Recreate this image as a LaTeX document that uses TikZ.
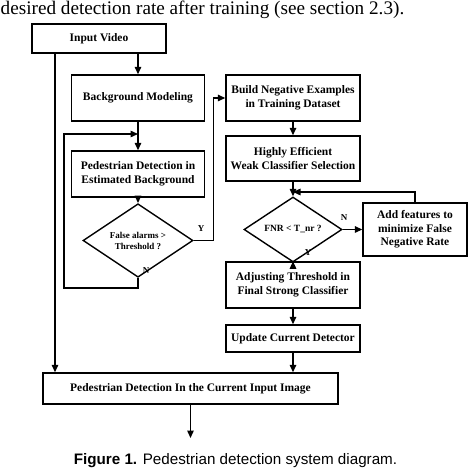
\documentclass[tikz,border=0pt]{standalone}
\usepackage{fontspec}
\setmainfont{Liberation Serif}
\newfontfamily\capfont{Liberation Sans}
\usetikzlibrary{arrows.meta,shapes.geometric,calc}
\tikzset{
  box/.style={draw, line width=1.4pt, inner sep=0pt, align=center,
    font=\fontsize{11.5}{13.5}\selectfont\bfseries},
  dia/.style={draw, diamond, line width=1.4pt, inner sep=0pt, align=center},
  arr/.style={line width=1.4pt, -{Triangle[length=7.5pt,width=6.5pt]}},
  lbl/.style={font=\fontsize{9}{10}\selectfont\bfseries, inner sep=0pt}
}
\begin{document}
\begin{tikzpicture}[x=1pt,y=-1pt]
\useasboundingbox (0,0) rectangle (474,470);
\node[anchor=base west, inner sep=0pt, font=\fontsize{19.2}{21}\selectfont] (top) at (0.5,15) {desired detection rate after training (see section 2.3).};

\node[box, minimum width=134pt, minimum height=29pt] (iv) at (99,38.5) {Input Video};
\node[box, minimum width=133pt, minimum height=46pt] (bg) at (138,98) {Background Modeling};
\node[box, minimum width=133pt, minimum height=46pt] (pd) at (138,174) {Pedestrian Detection in\\Estimated Background};
\node[dia, minimum width=110pt, minimum height=47pt, font=\fontsize{9}{11}\selectfont\bfseries] (d1) at (138,240.5) {False alarms >\\Threshold ?};

\node[box, minimum width=134pt, minimum height=46pt] (bn) at (293,98) {Build Negative Examples\\in Training Dataset};
\node[box, minimum width=134pt, minimum height=45pt] (he) at (293,158.5) {Highly Efficient\\Weak Classifier Selection};
\node[dia, minimum width=98pt, minimum height=33pt, font=\fontsize{9.5}{11}\selectfont\bfseries] (d2) at (293,229.5) {FNR < T\_nr ?};
\node[box, minimum width=104pt, minimum height=53pt] (af) at (415,229.5) {Add features to\\minimize False\\Negative Rate};
\node[box, minimum width=134pt, minimum height=46pt] (ad) at (293,285) {Adjusting Threshold in\\Final Strong Classifier};
\node[box, minimum width=134pt, minimum height=27pt] (uc) at (293,338.5) {Update Current Detector};
\node[box, minimum width=295pt, minimum height=31pt] (out) at (190.5,388.5) {Pedestrian Detection In the Current Input Image};

\node[anchor=base, inner sep=0pt, font=\capfont\fontsize{15.2}{17}\selectfont] (cap) at (235.5,464) {\textbf{Figure 1.} Pedestrian detection system diagram.};

% labels
\node[lbl] (y1) at (201,229) {Y};
\node[lbl] (n1) at (146,271) {N};
\node[lbl] (n2) at (344,218) {N};
\node[lbl] (y2) at (308,253) {Y};

% coordinates
\coordinate (ivl) at (55,53);
\coordinate (lp) at (64,288);
\coordinate (j1) at (138,134);
\coordinate (j2) at (293,192);
\coordinate (endp) at (190.5,438);

% connectors
\draw[arr] (bg.north |- iv.south) -- (bg.north);
\draw[arr] (ivl) -- (ivl |- out.north);
\draw[arr] (bg.south) -- (pd.north);
\draw[arr] (pd.south) -- (d1.north);
\draw[arr] (d1.south) |- (lp) |- (j1);
\draw[arr] (d1.east) -- ++(20,0) |- (bn.west);
\draw[arr] (bn.south) -- (he.north);
\draw[arr] (he.south) -- (d2.north);
\draw[arr] (af.north) |- (j2);
\draw[arr] (d2.east) -- (af.west);
\draw[arr] (d2.south) -- (ad.north);
\draw[arr] (ad.south) -- (uc.north);
\draw[arr] (uc.south) -- (uc.south |- out.north);
\draw[arr] (out.south) -- (endp);
\end{tikzpicture}
\end{document}
